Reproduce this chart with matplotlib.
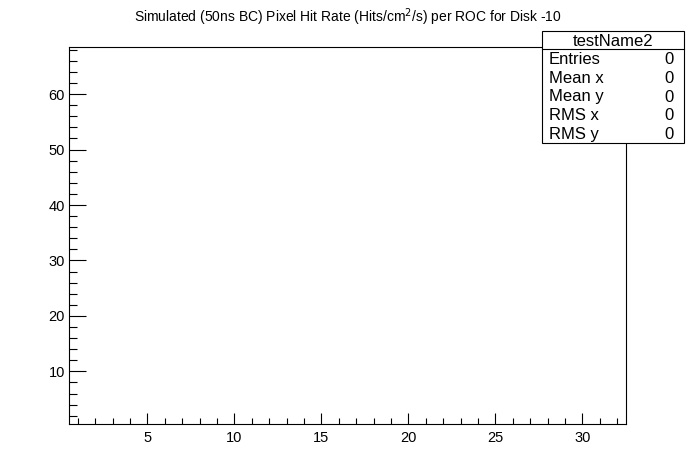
import numpy as np
import matplotlib.pyplot as plt
from matplotlib.patches import Rectangle
from matplotlib.ticker import MultipleLocator

plt.rcParams['font.family'] = ['Liberation Sans', 'DejaVu Sans']

# histogram range (empty histogram, no entries)
x_lo, x_hi = 0.5, 32.5
y_lo, y_hi = 0.5, 68.5
x_major = [5, 10, 15, 20, 25, 30]
y_major = [10, 20, 30, 40, 50, 60]

hist_name = 'testName2'
stat_labels = ['Entries', 'Mean x', 'Mean y', 'RMS x', 'RMS y']
stat_values = [0, 0, 0, 0, 0]

title = 'Simulated (50ns BC) Pixel Hit Rate (Hits/cm$^2$/s) per ROC for Disk -10'

W, H = 696, 472
fig = plt.figure(figsize=(W / 100, H / 100), dpi=100)
ax = fig.add_axes([69 / W, 1 - 424 / H, (626 - 69) / W, (424 - 47) / H])

ax.set_xlim(x_lo, x_hi)
ax.set_ylim(y_lo, y_hi)
ax.set_xticks(x_major)
ax.set_yticks(y_major)
ax.xaxis.set_minor_locator(MultipleLocator(1))
ax.yaxis.set_minor_locator(MultipleLocator(2))
for s in ax.spines.values():
    s.set_linewidth(0.8)
ax.tick_params(axis='both', which='both', direction='in', width=0.8,
               labelsize=10.5, top=False, right=False)
ax.tick_params(axis='x', which='major', length=8, pad=5)
ax.tick_params(axis='x', which='minor', length=4.3)
ax.tick_params(axis='y', which='major', length=12.2, pad=3)
ax.tick_params(axis='y', which='minor', length=6.1)

fig.text(0.5, 1 - 17 / H, title, ha='center', va='center', fontsize=10)

# stats box
bx0, bx1, by0, by1, bhead = 542, 684, 31, 143, 49
fig.patches.append(Rectangle((bx0 / W, 1 - by1 / H), (bx1 - bx0) / W, (by1 - by0) / H,
                             transform=fig.transFigure, facecolor='white',
                             edgecolor='black', linewidth=0.8, zorder=5))
fig.add_artist(plt.Line2D([bx0 / W, bx1 / W], [1 - bhead / H, 1 - bhead / H],
                          transform=fig.transFigure, color='black', linewidth=0.8, zorder=6))
fig.text((bx0 + bx1) / 2 / W, 1 - (by0 + bhead + 2) / 2 / H, hist_name,
         ha='center', va='center', fontsize=12, zorder=7)
row_h = (by1 - bhead) / len(stat_labels)
for i, (lab, val) in enumerate(zip(stat_labels, stat_values)):
    yc = 1 - (bhead + row_h * (i + 0.5) + 1) / H
    fig.text((bx0 + 7) / W, yc, lab, ha='left', va='center', fontsize=12, zorder=7)
    fig.text((bx1 - 10) / W, yc, str(val), ha='right', va='center', fontsize=12, zorder=7)

fig.savefig('out.png', dpi=100)
